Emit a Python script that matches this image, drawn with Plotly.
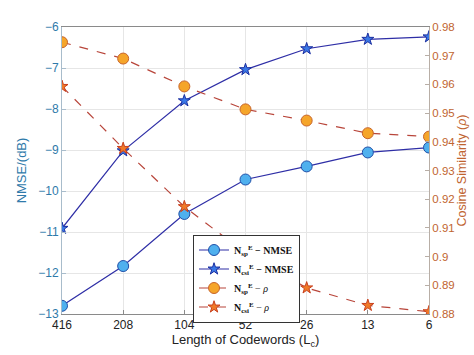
import plotly.graph_objects as go

codeword_lengths = ["416", "208", "104", "52", "26", "13", "6"]
nmse_sp = [-12.80, -11.83, -10.56, -9.72, -9.40, -9.06, -8.94]
nmse_csi = [-10.91, -9.02, -7.80, -7.04, -6.53, -6.30, -6.24]
rho_sp = [0.9747, 0.9690, 0.9593, 0.9513, 0.9474, 0.9430, 0.9418]
rho_csi = [0.9593, 0.9377, 0.9174, 0.9012, 0.8891, 0.8830, 0.8808]

blue_line = "#2e2ea6"
left_col = "#2f7aaa"
right_col = "#bf6430"
dash_col = "#b8453a"
font_fam = "Liberation Sans, Arial, sans-serif"
serif = "Liberation Serif, DejaVu Serif, serif"

fig = go.Figure()
fig.add_trace(go.Scatter(
    x=codeword_lengths, y=nmse_sp, mode="lines+markers",
    name="<b>N<sub>sp</sub><sup>E</sup> \u2212 NMSE</b>",
    line=dict(color=blue_line, width=1.2),
    marker=dict(symbol="circle", size=11, color="#4fb0ee", line=dict(color="#1f4fa8", width=1))))
fig.add_trace(go.Scatter(
    x=codeword_lengths, y=nmse_csi, mode="lines+markers",
    name="<b>N<sub>csi</sub><sup>E</sup> \u2212 NMSE</b>",
    line=dict(color=blue_line, width=1.2),
    marker=dict(symbol="star", size=9, color="#3a78e6", line=dict(color="#1a2ea0", width=1))))
fig.add_trace(go.Scatter(
    x=codeword_lengths, y=rho_sp, mode="lines+markers", yaxis="y2",
    name="<b>N<sub>sp</sub><sup>E</sup></b> \u2212 <i>\u03c1</i>",
    line=dict(color=dash_col, width=1.2, dash="dash"),
    marker=dict(symbol="circle", size=11, color="#f5a52a", line=dict(color="#c8642a", width=1))))
fig.add_trace(go.Scatter(
    x=codeword_lengths, y=rho_csi, mode="lines+markers", yaxis="y2",
    name="<b>N<sub>csi</sub><sup>E</sup></b> \u2212 <i>\u03c1</i>",
    line=dict(color=dash_col, width=1.2, dash="dash"),
    marker=dict(symbol="star", size=9, color="#f07a28", line=dict(color="#c8401e", width=1))))

fig.update_layout(
    width=474, height=355,
    margin=dict(l=62, r=45, t=27, b=41),
    paper_bgcolor="white", plot_bgcolor="white",
    font=dict(family=font_fam, size=12, color="#222"),
    showlegend=True,
    legend=dict(x=0.357, y=0.277, xanchor="left", yanchor="top",
                bgcolor="white", bordercolor="#333", borderwidth=1,
                font=dict(family=serif, size=10, color="#111"),
                tracegroupgap=0, itemwidth=30),
    xaxis=dict(type="category", range=[0, 6], showgrid=True, gridcolor="#e6e6e6",
               showline=True, linecolor="#8a8a8a", mirror=True, ticks="inside",
               ticklen=4, tickcolor="#8a8a8a", tickfont=dict(size=12, color="#222"),
               automargin=False,
               title=dict(text="Length of Codewords (L<sub>c</sub>)", font=dict(size=13, color="#222"), standoff=2)),
    yaxis=dict(range=[-13, -6], dtick=1, showgrid=True, gridcolor="#e6e6e6",
               showline=True, linecolor="#a8bccb", ticks="inside", ticklen=4, tickcolor="#a8bccb",
               tickfont=dict(size=12, color=left_col), zeroline=False, automargin=False,
               title=dict(text="NMSE/(dB)", font=dict(size=13, color=left_col), standoff=8)),
    yaxis2=dict(range=[0.88, 0.98], dtick=0.01, overlaying="y", side="right",
                showgrid=False, showline=True, linecolor="#b8aea6", ticks="inside",
                ticklen=4, tickcolor="#b8aea6", tickformat=".2~f",
                tickfont=dict(size=11.5, color=right_col), zeroline=False, automargin=False,
                title=dict(text="Cosine Similarity (<i>\u03c1</i>)", font=dict(size=12.5, color=right_col), standoff=2)),
)

fig.write_html("out.html", config={"displayModeBar": False},
               post_script="document.body.style.margin='0px';")
